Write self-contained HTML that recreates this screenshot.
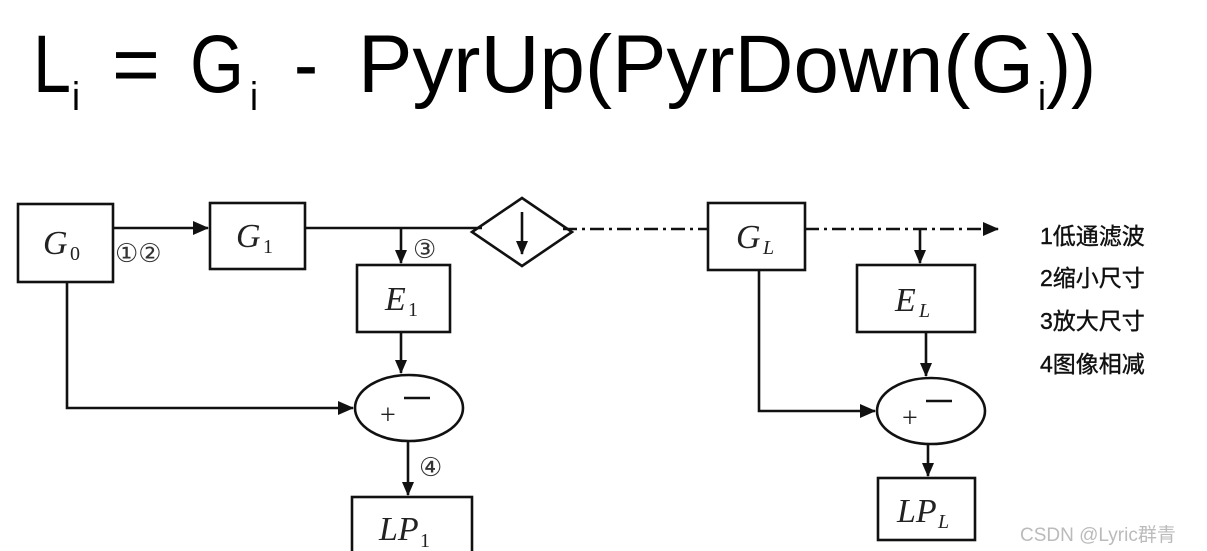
<!DOCTYPE html>
<html><head><meta charset="utf-8"><style>
html,body{margin:0;padding:0;background:#fff;width:1207px;height:551px;overflow:hidden}
svg{display:block}
.t{font-family:"Liberation Sans",sans-serif;font-size:82px;fill:#000}
.s{font-family:"Liberation Sans",sans-serif;font-size:40px;fill:#000}
.m{font-family:"Liberation Serif",serif;font-style:italic;font-size:34px;fill:#222}
.ms{font-family:"Liberation Serif",serif;font-size:20px;fill:#222}
.mi{font-family:"Liberation Serif",serif;font-style:italic;font-size:20px;fill:#222}
.c{font-family:"Liberation Sans","Noto Sans CJK SC",sans-serif;font-size:23px;fill:#111;stroke:#111;stroke-width:0.4}
.n{font-family:"DejaVu Sans",sans-serif;font-size:26px;fill:#333}
</style></head><body>
<svg width="1207" height="551" viewBox="0 0 1207 551">
<defs><marker id="a" markerWidth="14" markerHeight="14" refX="13" refY="7" orient="auto" markerUnits="userSpaceOnUse"><path d="M0,1 L14,7 L0,13 z" fill="#111"/></marker>
<marker id="b" markerWidth="16" markerHeight="16" refX="15" refY="8" orient="auto" markerUnits="userSpaceOnUse"><path d="M0,1 L16,8 L0,15 z" fill="#111"/></marker></defs>
<!-- title -->
<text class="t" x="33" y="92" textLength="38" lengthAdjust="spacingAndGlyphs">L</text>
<text class="s" x="72" y="110" textLength="8" lengthAdjust="spacingAndGlyphs">i</text>
<text class="t" x="112" y="92" textLength="48" lengthAdjust="spacingAndGlyphs">=</text>
<text class="t" x="190" y="92" textLength="54" lengthAdjust="spacingAndGlyphs">G</text>
<text class="s" x="250" y="110" textLength="8" lengthAdjust="spacingAndGlyphs">i</text>
<text class="t" x="294" y="92" textLength="24" lengthAdjust="spacingAndGlyphs">-</text>
<text class="t" x="358" y="92" textLength="676" lengthAdjust="spacingAndGlyphs">PyrUp(PyrDown(G</text>
<text class="s" x="1038" y="110" textLength="8" lengthAdjust="spacingAndGlyphs">i</text>
<text class="t" x="1046" y="92" textLength="50" lengthAdjust="spacingAndGlyphs">))</text>
<g stroke="#111" stroke-width="2.6" fill="none">
<rect x="18" y="204" width="95" height="78"/>
<rect x="210" y="203" width="95" height="66"/>
<rect x="357" y="265" width="93" height="67"/>
<ellipse cx="409" cy="408" rx="54" ry="33"/>
<rect x="352" y="497" width="120" height="70"/>
<path d="M472,232 L522,198 L572,232 L522,266 Z"/>
<rect x="708" y="203" width="97" height="67"/>
<rect x="857" y="265" width="118" height="67"/>
<ellipse cx="931" cy="411" rx="54" ry="33"/>
<rect x="878" y="478" width="97" height="62"/>
<line x1="113" y1="228" x2="208" y2="228" marker-end="url(#b)"/>
<line x1="305" y1="228" x2="482" y2="228"/>
<line x1="401" y1="228" x2="401" y2="263" marker-end="url(#a)"/>
<line x1="401" y1="332" x2="401" y2="373" marker-end="url(#a)"/>
<polyline points="67,282 67,408 353,408" marker-end="url(#b)"/>
<line x1="408" y1="441" x2="408" y2="495" marker-end="url(#a)"/>
<line x1="522" y1="212" x2="522" y2="254" marker-end="url(#a)"/>
<line x1="563" y1="229" x2="708" y2="229" stroke-dasharray="14,5,3,5"/>
<line x1="805" y1="229" x2="998" y2="229" stroke-dasharray="14,5,3,5" marker-end="url(#b)"/>
<line x1="920" y1="229" x2="920" y2="263" marker-end="url(#a)"/>
<line x1="926" y1="332" x2="926" y2="376" marker-end="url(#a)"/>
<polyline points="759,270 759,411 875,411" marker-end="url(#b)"/>
<line x1="928" y1="444" x2="928" y2="476" marker-end="url(#a)"/>
</g>
<g stroke="#111" stroke-width="2.4">
<line x1="404" y1="398" x2="430" y2="398"/>
<line x1="926" y1="401" x2="952" y2="401"/>
</g>
<text class="ms" x="380" y="424" style="font-size:28px">+</text>
<text class="ms" x="902" y="427" style="font-size:28px">+</text>
<text class="m" x="43" y="254">G</text><text class="ms" x="70" y="260">0</text>
<text class="m" x="236" y="247">G</text><text class="ms" x="263" y="253">1</text>
<text class="m" x="385" y="310">E</text><text class="ms" x="408" y="316">1</text>
<text class="m" x="379" y="540">LP</text><text class="ms" x="420" y="547">1</text>
<text class="m" x="736" y="248">G</text><text class="mi" x="763" y="254">L</text>
<text class="m" x="895" y="311">E</text><text class="mi" x="919" y="317">L</text>
<text class="m" x="897" y="522">LP</text><text class="mi" x="938" y="528">L</text>
<text class="n" x="115" y="262">①②</text>
<text class="n" x="413" y="258">③</text>
<text class="n" x="419" y="476">④</text>
<text class="c" x="1040" y="244">1低通滤波</text>
<text class="c" x="1040" y="286">2缩小尺寸</text>
<text class="c" x="1040" y="329">3放大尺寸</text>
<text class="c" x="1040" y="372">4图像相减</text>
<text class="c" x="1020" y="541" style="font-size:19px;fill:#bbb;stroke:none">CSDN @Lyric群青</text>
</svg>
</body></html>
